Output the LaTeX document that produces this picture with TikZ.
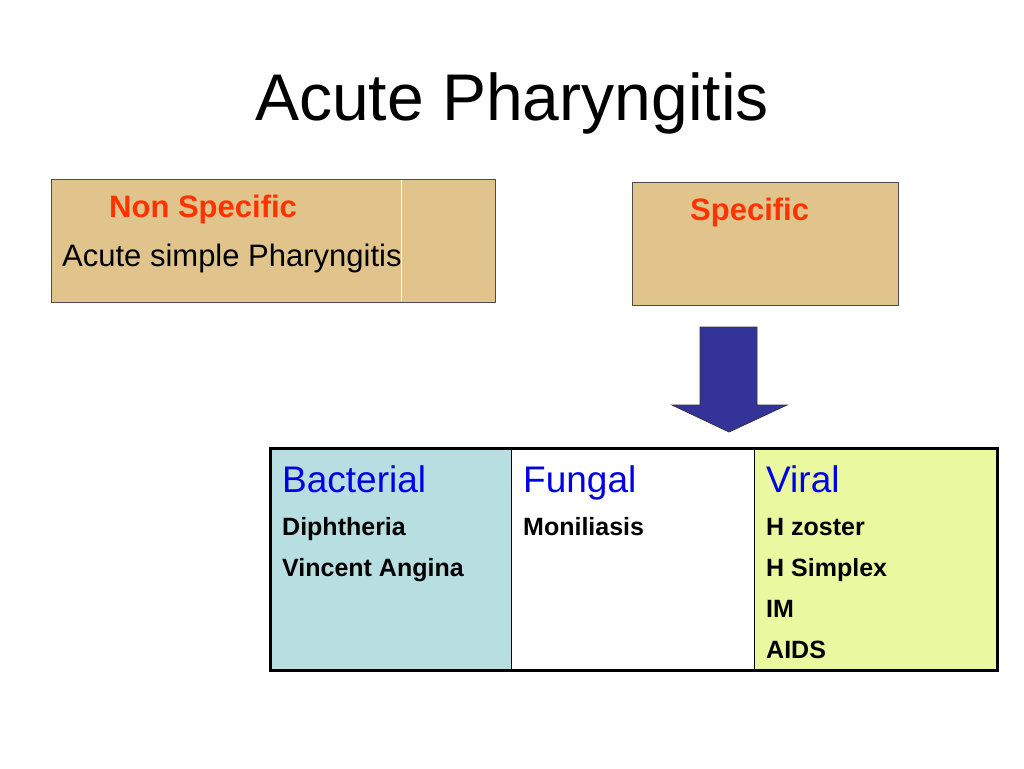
\documentclass[tikz,border=0pt]{standalone}
\usepackage{fontspec}
\setmainfont{Liberation Sans}
\definecolor{papercol}{RGB}{224,196,140}
\definecolor{headcol}{RGB}{255,51,0}
\definecolor{titleblue}{RGB}{0,0,230}
\definecolor{arrowcol}{RGB}{51,51,153}
\definecolor{bactcol}{RGB}{183,222,224}
\definecolor{viralcol}{RGB}{234,248,160}
\begin{document}
\begin{tikzpicture}[x=1pt,y=-1pt,
  paper/.style={draw=black!70,line width=0.8pt,fill=papercol},
  head/.style={text=headcol,font=\bfseries\fontsize{31}{36}\selectfont,anchor=base west,inner sep=0},
  coltitle/.style={text=titleblue,font=\fontsize{37}{42}\selectfont,anchor=base west,inner sep=0},
  item/.style={font=\bfseries\fontsize{25}{30}\selectfont,anchor=base west,inner sep=0}]
\useasboundingbox (0,0) rectangle (1024,768);
\node[font=\fontsize{66}{72}\selectfont,anchor=base,inner sep=0] (title) at (512,120) {Acute Pharyngitis};
\draw[paper] (51,179) rectangle (495,302);
\draw[white,line width=1pt] (401,180) -- (401,301);
\node[head] (ns) at (109,217) {Non Specific};
\node[font=\fontsize{31}{36}\selectfont,anchor=base west,inner sep=0] (as) at (62,266) {Acute simple Pharyngitis};
\draw[paper] (632,182) rectangle (898,305);
\node[head] (sp) at (690,220) {Specific};
\draw[fill=arrowcol,draw=black!80,line width=0.8pt]
  (700,327) -- (757,327) -- (757,405) -- (787,405) -- (729,432) -- (672,405) -- (700,405) -- cycle;
\fill[bactcol] (270,448) rectangle (511,670);
\fill[viralcol] (754,448) rectangle (997,670);
\draw[line width=1pt] (511,448) -- (511,670) (754,448) -- (754,670);
\draw[line width=3pt] (270,448) rectangle (997,670);
\node[coltitle] (b) at (282,492) {Bacterial};
\node[item] (b1) at (282,535) {Diphtheria};
\node[item] (b2) at (282,576) {Vincent Angina};
\node[coltitle] (f) at (523,492) {Fungal};
\node[item] (f1) at (523,535) {Moniliasis};
\node[coltitle] (v) at (766,492) {Viral};
\node[item] (v1) at (766,535) {H zoster};
\node[item] (v2) at (766,576) {H Simplex};
\node[item] (v3) at (766,617) {IM};
\node[item] (v4) at (766,658) {AIDS};
\end{tikzpicture}
\end{document}
